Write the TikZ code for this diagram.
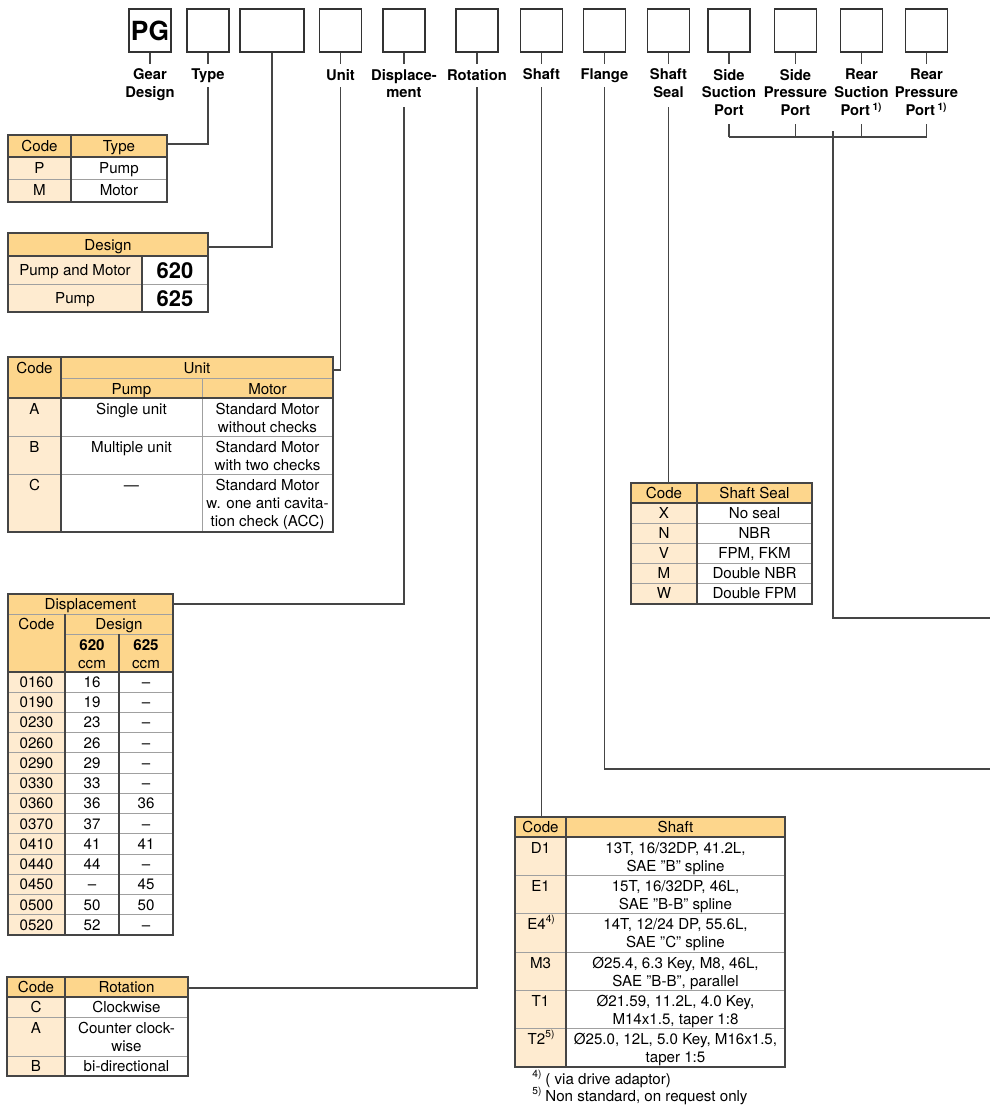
\documentclass[tikz,border=0pt]{standalone}
\usepackage{fontspec}
\setmainfont{TeX Gyre Heros}
\usetikzlibrary{positioning}

\definecolor{headfill}{HTML}{FDD68C}
\definecolor{codefill}{HTML}{FEEBD0}
\definecolor{wirecol}{HTML}{454545}
\definecolor{gridcol}{HTML}{A0A0A0}

\newcommand{\cellfont}{\fontsize{8.6}{10.2}\selectfont}
\newcommand{\lblfont}{\fontsize{8.4}{10.2}\selectfont\bfseries}
\newcommand{\bignum}{\fontsize{12.5}{13}\selectfont\bfseries}
\newcommand{\fn}[1]{\textsuperscript{\fontsize{5.8}{6}\selectfont #1}}

\begin{document}
\begin{tikzpicture}[x=0.2mm,y=-0.2mm,
  codebox/.style={draw=black!80,line width=0.75pt,minimum width=8.4mm,
    minimum height=8.6mm,inner sep=0pt,font=\fontsize{15}{15}\selectfont\bfseries},
  lbl/.style={font=\lblfont,align=center,anchor=north,inner sep=0pt},
  cell/.style={font=\cellfont,align=center,anchor=base,inner sep=0pt},
  wire/.style={draw=wirecol,line width=0.75pt},
  frame/.style={draw=wirecol,line width=0.6pt},
  grid/.style={draw=gridcol,line width=0.5pt}]
  \useasboundingbox (0,0) rectangle (1000,1108);

  % order code boxes and their labels
  \node[codebox] (bPG) at (150,30.5) {PG};
  \node[lbl,below=3.2mm of bPG] (lGear) {Gear\\Design};
  \node[codebox,minimum width=12.8mm] (bDes) at (272,30.5) {};
  \foreach \n/\x/\t in {Type/208/Type, Unit/340.5/Unit, Disp/404/{Displace-\\ment},
      Rot/477/Rotation, Shaft/541.5/Shaft, Flange/604.5/Flange, Seal/668.5/{Shaft\\Seal},
      SSP/729/{Side\\Suction\\Port}, SPP/795.5/{Side\\Pressure\\Port},
      RSP/861.5/{Rear\\Suction\\Port\,\fn{1)}}, RPP/926.5/{Rear\\Pressure\\Port\,\fn{1)}}}{
    \node[codebox] (b\n) at (\x,30.5) {};
    \node[lbl,below=3.2mm of b\n] (l\n) {\t};
  }
  \foreach \b in {bPG,bType,bUnit,bDisp,bRot,bShaft,bFlange,bSeal,bSSP,bSPP,bRSP,bRPP}
    \draw[wire] (\b.south) -- ++(0,11);

  % type table
  \fill[headfill] (8,135) rectangle (167,157);
  \fill[codefill] (8,157) rectangle (71,202);
  \draw[grid] (8,179) -- (167,179);
  \draw[frame] (8,157) -- (167,157) (71,135) -- (71,202);
  \draw[frame] (8,135) rectangle (167,202);
  \node[cell] (tyCode) at (39.5,151) {Code};
  \node[cell] (tyHead) at (119,151) {Type};
  \node[cell] (tyP) at (39.5,173) {P};
  \node[cell] (tyPump) at (119,173) {Pump};
  \node[cell] (tyM) at (39.5,195.5) {M};
  \node[cell] (tyMotor) at (119,195.5) {Motor};
  \coordinate (typeIn) at (167,144);

  % design table
  \fill[headfill] (8,233) rectangle (208,256);
  \fill[codefill] (8,256) rectangle (142,312);
  \draw[grid] (8,284) -- (208,284);
  \draw[frame] (8,256) -- (208,256) (142,256) -- (142,312);
  \draw[frame] (8,233) rectangle (208,312);
  \node[cell] (dsHead) at (108,250) {Design};
  \node[cell] (dsPM) at (75,275) {Pump and Motor};
  \node[cell,font=\bignum] (ds620) at (175,278.5) {620};
  \node[cell] (dsP) at (75,303) {Pump};
  \node[cell,font=\bignum] (ds625) at (175,306.5) {625};
  \coordinate (designIn) at (208,247);

  % unit table (multi-line cells sit on their last baseline)
  \fill[headfill] (8,357) rectangle (333,398);
  \fill[codefill] (8,398) rectangle (61,532);
  \draw[grid] (61,378) -- (333,378) (8,436) -- (333,436) (8,474) -- (333,474)
    (202,378) -- (202,532);
  \draw[frame] (8,398) -- (333,398) (61,357) -- (61,532);
  \draw[frame] (8,357) rectangle (333,532);
  \node[cell] (unCode) at (34.5,373) {Code};
  \node[cell] (unHead) at (197,373) {Unit};
  \node[cell] (unPump) at (131.5,394) {Pump};
  \node[cell] (unMotor) at (267.5,394) {Motor};
  \node[cell] (unA) at (34.5,414) {A};
  \node[cell] (unAp) at (131.5,414) {Single unit};
  \node[cell] (unAm) at (267.5,432) {Standard Motor\\without checks};
  \node[cell] (unB) at (34.5,452) {B};
  \node[cell] (unBp) at (131.5,452) {Multiple unit};
  \node[cell] (unBm) at (267.5,470) {Standard Motor\\with two checks};
  \node[cell] (unC) at (34.5,490) {C};
  \node[cell] (unCp) at (131.5,490) {—};
  \node[cell] (unCm) at (267.5,526) {Standard Motor\\w. one anti cavita-\\tion check (ACC)};
  \coordinate (unitIn) at (333,370);

  % displacement table
  \fill[headfill] (8,594) rectangle (173,672);
  \fill[codefill] (8,672) rectangle (65,935);
  \foreach \i in {1,...,12}
    \draw[grid] (8,672+20.23*\i) -- (173,672+20.23*\i);
  \draw[grid] (8,614) -- (173,614) (65,634) -- (173,634);
  \draw[frame] (8,672) -- (173,672) (65,614) -- (65,935) (119,634) -- (119,935);
  \draw[frame] (8,594) rectangle (173,935);
  \node[cell] (dpHead) at (90.5,609) {Displacement};
  \node[cell] (dpCode) at (36.5,629) {Code};
  \node[cell] (dpDesign) at (119,629) {Design};
  \node[cell] (dp620) at (92,668) {\textbf{620}\\ccm};
  \node[cell] (dp625) at (146,668) {\textbf{625}\\ccm};
  \foreach \c/\a/\b [count=\i from 0] in {0160/16/–, 0190/19/–, 0230/23/–,
      0260/26/–, 0290/29/–, 0330/33/–, 0360/36/36, 0370/37/–, 0410/41/41,
      0440/44/–, 0450/–/45, 0500/50/50, 0520/52/–}{
    \node[cell] (dpc\i) at (36.5,687.5+20.23*\i) {\c};
    \node[cell] (dpa\i) at (92,687.5+20.23*\i) {\a};
    \node[cell] (dpb\i) at (146,687.5+20.23*\i) {\b};
  }
  \coordinate (dispIn) at (173,604);

  % rotation table
  \fill[headfill] (7,977) rectangle (188,997);
  \fill[codefill] (7,997) rectangle (65,1076);
  \draw[grid] (7,1017) -- (188,1017) (7,1056) -- (188,1056);
  \draw[frame] (7,997) -- (188,997) (65,977) -- (65,1076);
  \draw[frame] (7,977) rectangle (188,1076);
  \node[cell] (roCode) at (36,992) {Code};
  \node[cell] (roHead) at (126.5,992) {Rotation};
  \node[cell] (roC) at (36,1012) {C};
  \node[cell] (roCt) at (126.5,1012) {Clockwise};
  \node[cell] (roA) at (36,1033) {A};
  \node[cell] (roAt) at (126.5,1051) {Counter clock-\\wise};
  \node[cell] (roB) at (36,1071) {B};
  \node[cell] (roBt) at (126.5,1071) {bi-directional};
  \coordinate (rotIn) at (188,988);

  % shaft seal table
  \fill[headfill] (631,483) rectangle (812,503);
  \fill[codefill] (631,503) rectangle (697,604);
  \foreach \i in {1,...,4}
    \draw[grid] (631,503+20.2*\i) -- (812,503+20.2*\i);
  \draw[frame] (631,503) -- (812,503) (697,483) -- (697,604);
  \draw[frame] (631,483) rectangle (812,604);
  \node[cell] (ssCode) at (664,498) {Code};
  \node[cell] (ssHead) at (754.5,498) {Shaft Seal};
  \foreach \c/\t [count=\i from 0] in {X/No seal, N/NBR, V/{FPM, FKM},
      M/Double NBR, W/Double FPM}{
    \node[cell] (ssc\i) at (664,518+20.2*\i) {\c};
    \node[cell] (sst\i) at (754.5,518+20.2*\i) {\t};
  }
  \coordinate (sealIn) at (668.5,483);

  % shaft table
  \fill[headfill] (515,817) rectangle (785,837);
  \fill[codefill] (515,837) rectangle (566,1067);
  \foreach \i in {1,...,5}
    \draw[grid] (515,837+38.33*\i) -- (785,837+38.33*\i);
  \draw[frame] (515,837) -- (785,837) (566,817) -- (566,1067);
  \draw[frame] (515,817) rectangle (785,1067);
  \node[cell] (shCode) at (540.5,832) {Code};
  \node[cell] (shHead) at (675.5,832) {Shaft};
  \node[cell] (shD1) at (540.5,853) {D1};
  \node[cell] (shD1t) at (675.5,871) {13T, 16/32DP, 41.2L,\\SAE ”B” spline};
  \node[cell] (shE1) at (540.5,891.3) {E1};
  \node[cell] (shE1t) at (675.5,909.3) {15T, 16/32DP, 46L,\\SAE ”B-B” spline};
  \node[cell] (shE4) at (541.5,929.7) {E4\fn{4)}};
  \node[cell] (shE4t) at (675.5,947.7) {14T, 12/24 DP, 55.6L,\\SAE ”C” spline};
  \node[cell] (shM3) at (540.5,968) {M3};
  \node[cell] (shM3t) at (675.5,986) {Ø25.4, 6.3 Key, M8, 46L,\\SAE "B-B", parallel};
  \node[cell] (shT1) at (540.5,1006.3) {T1};
  \node[cell] (shT1t) at (675.5,1024.3) {Ø21.59, 11.2L, 4.0 Key,\\M14x1.5, taper 1:8};
  \node[cell] (shT2) at (541.5,1044.7) {T2\fn{5)}};
  \node[cell] (shT2t) at (675.5,1062.7) {Ø25.0, 12L, 5.0 Key, M16x1.5,\\taper 1:5};
  \coordinate (shaftIn) at (541.5,817);
  % footnotes
  \node[cell,anchor=base west] (fnMark4) at (532,1084) {\fn{4)}};
  \node[cell,anchor=base west] (fnText4) at (545,1084) {( via drive adaptor)};
  \node[cell,anchor=base west] (fnMark5) at (532,1101) {\fn{5)}};
  \node[cell,anchor=base west] (fnText5) at (545,1101) {Non standard, on request only};

  % connectors
  \coordinate (lineTop) at (0,87);
  \coordinate (lineTopB) at (0,107);
  \coordinate (tickTop) at (0,124);
  \coordinate (portBar) at (0,137);
  \coordinate (portJoin) at (833,131);
  \coordinate (portEnd) at (990,618);
  \coordinate (flangeEnd) at (990,769);
  \draw[wire] (lType |- lineTop) |- (typeIn);
  \draw[wire] (bDes.south) |- (designIn);
  \draw[wire] (lUnit |- lineTop) |- (unitIn);
  \draw[wire] (lDisp |- lineTopB) |- (dispIn);
  \draw[wire] (lRot |- lineTop) |- (rotIn);
  \draw[wire] (lShaft |- lineTop) -- (shaftIn);
  \draw[wire] (lFlange |- lineTop) |- (flangeEnd);
  \draw[wire] (lSeal |- lineTopB) -- (sealIn);
  \foreach \p in {lSSP,lSPP,lRSP,lRPP}
    \draw[wire] (\p |- tickTop) -- (\p |- portBar);
  \draw[wire] (lSSP |- portBar) -- (lRPP |- portBar);
  \draw[wire] (portJoin) |- (portEnd);
\end{tikzpicture}
\end{document}
